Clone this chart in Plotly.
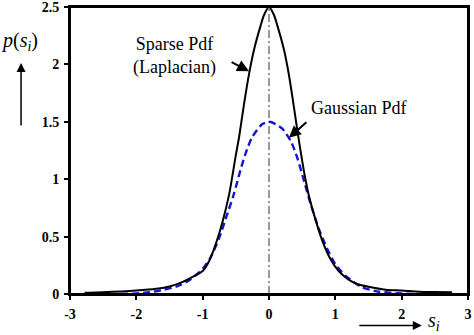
import plotly.graph_objects as go

# Sparse (Laplacian-like) density, sampled values
sparse_x = [-2.78, -2.5, -2.0, -1.7, -1.5, -1.3, -1.15, -1.0, -0.9, -0.8, -0.7, -0.6,
            -0.5, -0.45, -0.375, -0.3, -0.225, -0.125, -0.075, 0.0,
            0.075, 0.125, 0.225, 0.3, 0.375, 0.45, 0.53, 0.6, 0.7, 0.8, 0.93,
            1.05, 1.2, 1.33, 1.5, 1.76, 2.0, 2.26, 2.5, 2.76]
sparse_y = [0.01, 0.015, 0.03, 0.045, 0.065, 0.105, 0.15, 0.2, 0.29, 0.44, 0.63, 0.87,
            1.21, 1.37, 1.66, 1.92, 2.13, 2.34, 2.43, 2.5,
            2.43, 2.34, 2.13, 1.91, 1.63, 1.34, 1.06, 0.86, 0.65, 0.47, 0.3,
            0.2, 0.125, 0.087, 0.063, 0.037, 0.03, 0.02, 0.017, 0.015]

# Gaussian density, sampled values
gauss_x = [-2.23, -2.0, -1.8, -1.6, -1.4, -1.2, -1.0, -0.88, -0.75, -0.65, -0.53, -0.43,
           -0.35, -0.25, -0.1, 0.0, 0.1, 0.2, 0.33, 0.43, 0.53, 0.63, 0.75, 0.88,
           1.0, 1.15, 1.4, 1.66, 2.0, 2.23]
gauss_y = [0.0, 0.005, 0.015, 0.035, 0.065, 0.12, 0.22, 0.32, 0.49, 0.66, 0.87, 1.08,
           1.23, 1.37, 1.48, 1.5, 1.48, 1.44, 1.33, 1.18, 0.98, 0.78, 0.57, 0.39,
           0.26, 0.16, 0.06, 0.02, 0.005, 0.0]

x_ticks = [-3, -2, -1, 0, 1, 2, 3]
x_tick_text = ["-3", "-2", "-1", "0", "1", "2", "3"]
y_ticks = [0, 0.5, 1, 1.5, 2, 2.5]
y_tick_text = ["0", "0.5", "1", "1.5", "2", "2.5"]

serif = "Liberation Serif"

fig = go.Figure()

# centre line at s_i = 0
fig.add_trace(go.Scatter(x=[0, 0], y=[0, 2.5], mode="lines",
                         line=dict(color="#333333", width=1, dash="8px,3px,2px,3px"),
                         hoverinfo="skip", showlegend=False))

fig.add_trace(go.Scatter(x=gauss_x, y=gauss_y, mode="lines",
                         line=dict(color="#1414d2", width=2.4, dash="7px,4px",
                                   shape="spline", smoothing=0.7),
                         showlegend=False))

fig.add_trace(go.Scatter(x=sparse_x, y=sparse_y, mode="lines",
                         line=dict(color="black", width=2, shape="spline", smoothing=0.7),
                         showlegend=False))

axis_common = dict(showgrid=False, zeroline=False, showline=True, linecolor="black",
                   linewidth=2, mirror=True, ticks="outside", ticklen=4, tickwidth=2,
                   tickcolor="black", automargin=False, ticklabeloverflow="allow",
                   tickfont=dict(family=serif, size=14, color="black", weight="bold"))

fig.update_xaxes(range=[-3, 3], tickvals=x_ticks, ticktext=x_tick_text,
                 ticklabelstandoff=2, **axis_common)
fig.update_yaxes(range=[0, 2.5], tickvals=y_ticks, ticktext=y_tick_text,
                 ticklabelstandoff=2, **axis_common)

# plot frame
fig.add_shape(type="rect", xref="paper", yref="paper", x0=0, x1=1, y0=0, y1=1,
              line=dict(color="black", width=2), layer="above")

text_font = dict(family=serif, size=18, color="black")
label_font = dict(family=serif, size=20, color="black")

annotations = [
    # curve labels with pointers
    dict(x=-1.42, y=2.07, xref="x", yref="y", showarrow=False,
         text="Sparse Pdf<br>(Laplacian)", font=text_font, align="center",
         xanchor="center", yanchor="middle"),
    dict(x=-0.30, y=1.94, xref="x", yref="y", ax=-19, ay=-10, showarrow=True,
         arrowhead=2, arrowsize=1.2, arrowwidth=2, arrowcolor="black", text=""),
    dict(x=1.36, y=1.62, xref="x", yref="y", showarrow=False, text="Gaussian Pdf",
         font=text_font, xanchor="center", yanchor="middle"),
    dict(x=0.30, y=1.36, xref="x", yref="y", ax=19, ay=-17, showarrow=True,
         arrowhead=2, arrowsize=1.2, arrowwidth=2, arrowcolor="black", text=""),
    # axis titles
    dict(x=-0.126, y=0.88, xref="paper", yref="paper", showarrow=False,
         text="<i>p</i>(<i>s<sub>i</sub></i>)", font=label_font,
         xanchor="center", yanchor="middle"),
    dict(x=-0.123, y=0.805, xref="paper", yref="paper", ax=0, ay=64, showarrow=True,
         arrowhead=2, arrowsize=1.2, arrowwidth=1.5, arrowcolor="black", text=""),
    dict(x=0.915, y=-0.095, xref="paper", yref="paper", showarrow=False,
         text="<i>s<sub>i</sub></i>", font=label_font,
         xanchor="center", yanchor="middle"),
    dict(x=0.884, y=-0.11, xref="paper", yref="paper", ax=-64, ay=0, showarrow=True,
         arrowhead=2, arrowsize=1.2, arrowwidth=1.5, arrowcolor="black", text=""),
]

fig.update_layout(template="none", width=474, height=335,
                  margin=dict(l=70, r=6, t=7, b=41, autoexpand=False),
                  paper_bgcolor="white", plot_bgcolor="white",
                  annotations=annotations)

fig.write_html("out.html")
